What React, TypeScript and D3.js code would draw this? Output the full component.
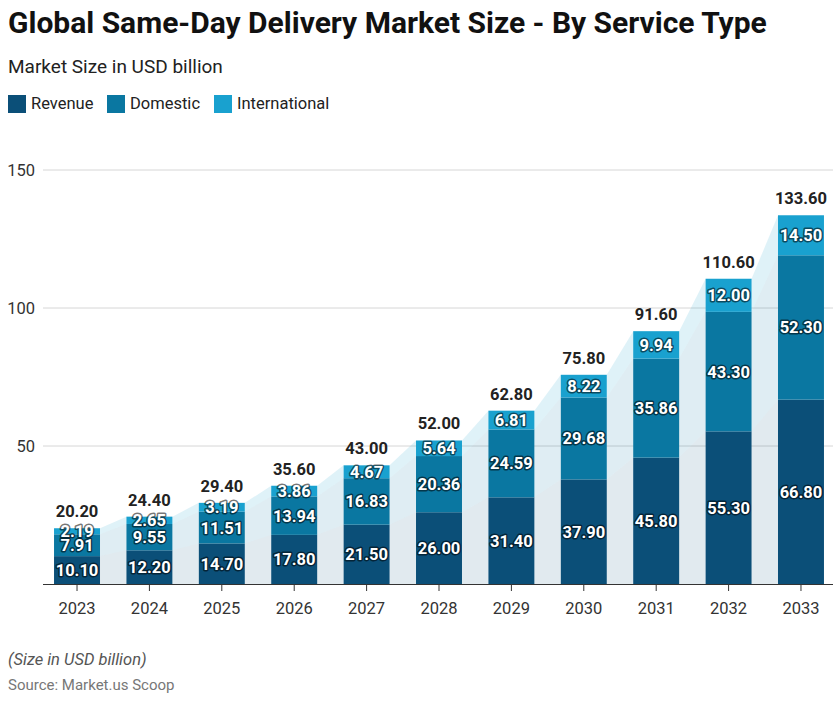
import * as d3 from 'd3';
import React from 'react';

const years = ['2023', '2024', '2025', '2026', '2027', '2028', '2029', '2030', '2031', '2032', '2033'];
const revenue = [10.1, 12.2, 14.7, 17.8, 21.5, 26.0, 31.4, 37.9, 45.8, 55.3, 66.8];
const domestic = [7.91, 9.55, 11.51, 13.94, 16.83, 20.36, 24.59, 29.68, 35.86, 43.3, 52.3];
const international = [2.19, 2.65, 3.19, 3.86, 4.67, 5.64, 6.81, 8.22, 9.94, 12.0, 14.5];
const totals = [20.2, 24.4, 29.4, 35.6, 43.0, 52.0, 62.8, 75.8, 91.6, 110.6, 133.6];
const yTicks = [50, 100, 150];

const seriesNames = ['Revenue', 'Domestic', 'International'];
const colors = ['#0b4f78', '#0a77a1', '#19a1cf'];
const areaOpacity = [0.12, 0.13, 0.14];

const W = 840;
const H = 701;
const FONT = 'Roboto, "Noto Sans", sans-serif';

const App = () => {
    const rows = years.map((y, i) => ({
        year: y,
        Revenue: revenue[i],
        Domestic: domestic[i],
        International: international[i],
    }));
    const stack = d3.stack().keys(seriesNames);
    const layers = stack(rows as any);

    const x = d3.scaleBand().domain(years).range([41, 837]).paddingInner(0.365).paddingOuter(0.18);
    const y = d3.scaleLinear().domain([0, 150]).range([584, 170]);
    const bw = x.bandwidth();

    const halo = {
        paintOrder: 'stroke',
        stroke: 'rgba(0,0,0,0.55)',
        strokeWidth: 3,
        strokeLinejoin: 'round',
    } as any;

    // legend x positions
    const legendX = [8, 107, 214];

    return (
        <svg width={W} height={H} style={{ position: 'absolute', left: 0, top: 0 }} fontFamily={FONT}>
            <rect width={W} height={H} fill="#fff" />
            <text x={8} y={33} fontSize={30} fontWeight={700} fill="#111">
                Global Same-Day Delivery Market Size - By Service Type
            </text>
            <text x={8} y={73} fontSize={19} fill="#222">Market Size in USD billion</text>
            {seriesNames.map((s, i) => (
                <g key={s} transform={`translate(${legendX[i]},95)`}>
                    <rect width={18} height={18} fill={colors[i]} />
                    <text x={23} y={14} fontSize={16.5} fill="#222">{s}</text>
                </g>
            ))}

            {/* grid */}
            {yTicks.map((t) => (
                <g key={t}>
                    <line x1={43} x2={833} y1={y(t)} y2={y(t)} stroke="#d6d6d6" />
                    <text x={35} y={y(t) + 6} textAnchor="end" fontSize={16.5} fill="#333">{t}</text>
                </g>
            ))}

            {/* connecting areas */}
            {layers.map((layer, li) =>
                layer.slice(0, -1).map((d, i) => {
                    const n = layer[i + 1];
                    const x0 = x(years[i])! + bw;
                    const x1 = x(years[i + 1])!;
                    const pts = [
                        [x0, y(d[0])],
                        [x0, y(d[1])],
                        [x1, y(n[1])],
                        [x1, y(n[0])],
                    ];
                    return (
                        <polygon
                            key={`a${li}-${i}`}
                            points={pts.map((p) => p.join(',')).join(' ')}
                            fill={colors[li]}
                            fillOpacity={areaOpacity[li]}
                        />
                    );
                })
            )}

            {/* bars */}
            {layers.map((layer, li) =>
                layer.map((d, i) => (
                    <rect
                        key={`b${li}-${i}`}
                        x={x(years[i])}
                        y={y(d[1])}
                        width={bw}
                        height={y(d[0]) - y(d[1])}
                        fill={colors[li]}
                    />
                ))
            )}

            {/* segment labels */}
            {layers.map((layer, li) =>
                layer.map((d, i) => (
                    <text
                        key={`l${li}-${i}`}
                        x={x(years[i])! + bw / 2}
                        y={(y(d[0]) + y(d[1])) / 2 + 6}
                        textAnchor="middle"
                        fontSize={16.5}
                        fontWeight={700}
                        fill="#fff"
                        style={halo}
                    >
                        {(d[1] - d[0]).toFixed(2)}
                    </text>
                ))
            )}

            {/* totals */}
            {totals.map((t, i) => (
                <text
                    key={`t${i}`}
                    x={x(years[i])! + bw / 2}
                    y={y(t) - 11}
                    textAnchor="middle"
                    fontSize={16.5}
                    fontWeight={700}
                    fill="#222"
                >
                    {t.toFixed(2)}
                </text>
            ))}

            {/* x axis */}
            <line x1={43} x2={833} y1={584.5} y2={584.5} stroke="#333" strokeWidth={1.2} />
            {years.map((yr) => (
                <g key={yr}>
                    <line x1={x(yr)! + bw / 2} x2={x(yr)! + bw / 2} y1={585} y2={591} stroke="#333" />
                    <text x={x(yr)! + bw / 2} y={614} textAnchor="middle" fontSize={16.5} fill="#333">{yr}</text>
                </g>
            ))}

            <text x={8} y={665} fontSize={16.5} fontStyle="italic" fill="#555">(Size in USD billion)</text>
            <text x={8} y={690} fontSize={15} fill="#777">Source: Market.us Scoop</text>
        </svg>
    );
};

export default App;
